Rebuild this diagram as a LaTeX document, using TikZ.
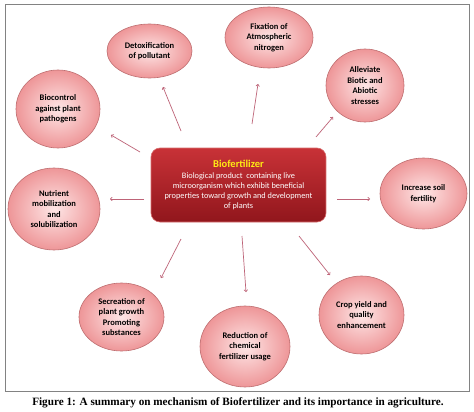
\documentclass[tikz,border=0pt]{standalone}
\usepackage{fontspec}
\setmainfont{Liberation Serif}
\newfontfamily\calfont{Carlito}
\usetikzlibrary{shapes.geometric,arrows.meta,calc}
\definecolor{ellin}{RGB}{254,230,230}
\definecolor{ellout}{RGB}{238,150,152}
\definecolor{elldraw}{RGB}{190,110,112}
\definecolor{arrcol}{RGB}{190,100,120}
\definecolor{boxtop}{RGB}{200,50,55}
\definecolor{boxbot}{RGB}{145,22,28}
\definecolor{boxdraw}{RGB}{215,110,110}
\definecolor{titlecol}{RGB}{255,235,20}
\definecolor{framecol}{RGB}{130,130,130}
\tikzset{
  ell/.style={ellipse, inner sep=0pt, draw=elldraw, line width=0.6pt,
    shading=radial, inner color=ellin, outer color=ellout,
    align=center, font=\calfont\bfseries\fontsize{8.5}{10.5}\selectfont},
  centrebox/.style={rectangle, rounded corners=9pt, draw=boxdraw, line width=0.6pt,
    top color=boxtop, bottom color=boxbot, minimum width=175pt, minimum height=74pt,
    inner sep=0pt, align=center, text=white, font=\calfont\fontsize{8.3}{10}\selectfont},
  arr/.style={draw=arrcol, line width=0.7pt, -{To[length=2.5pt,width=4pt]}},
  frame/.style={draw=framecol, line width=1pt}
}
\begin{document}
\begin{tikzpicture}[x=1pt,y=-1pt]
\useasboundingbox (0,0) rectangle (474,412);
\fill[white] (0,0) rectangle (474,412);
\draw[frame] (5,5) rectangle (469,391);

\node[centrebox] (box) at (238.5,185) {{\bfseries\fontsize{10.5}{12}\selectfont\color{titlecol}Biofertilizer}\\[1pt]
Biological product\ \ containing live\\microorganism which exhibit beneficial\\properties toward growth and development\\of plants};

\node[ell, minimum width=85pt, minimum height=54pt] (detox) at (149.5,51) {Detoxification\\of pollutant};
\node[ell, minimum width=88pt, minimum height=61pt] (fix) at (269,37.5) {Fixation of\\Atmospheric\\nitrogen};
\node[ell, minimum width=78pt, minimum height=73pt] (alle) at (365,85.5) {Alleviate\\Biotic and\\Abiotic\\stresses};
\node[ell, minimum width=84pt, minimum height=78pt] (bio) at (58,109) {Biocontrol\\against plant\\pathogens};
\node[ell, minimum width=92pt, minimum height=82pt] (nut) at (54,209) {Nutrient\\mobilization\\and\\solubilization};
\node[ell, minimum width=87pt, minimum height=71pt] (inc) at (423.5,193.5) {Increase soil\\fertility};
\node[ell, minimum width=85pt, minimum height=68pt] (sec) at (121.5,317) {Secreation of\\plant growth\\Promoting\\substances};
\node[ell, minimum width=90pt, minimum height=81pt] (red) at (245,346.5) {Reduction of\\chemical\\fertilizer usage};
\node[ell, minimum width=85pt, minimum height=78pt] (crop) at (361.5,315) {Crop yield and\\quality\\enhancement};

\draw[arr] ($(box)+(-57.5,-54)$) -- ($(detox)+(13.5,36)$);
\draw[arr] ($(box)+(13.5,-61)$) -- ($(fix)+(-11,46.5)$);
\draw[arr] ($(box)+(77.5,-48)$) -- ($(alle)+(-32,31.5)$);
\draw[arr] ($(box)+(-98.5,-33)$) -- ($(bio)+(53,26)$);
\draw[arr] ($(box)+(-94.5,14)$) -- ($(nut)+(56,-10)$);
\draw[arr] ($(box)+(98.5,14)$) -- ($(inc)+(-53.5,5.5)$);
\draw[arr] ($(box)+(-57.5,54)$) -- ($(sec)+(39.5,-39)$);
\draw[arr] ($(box)+(3.5,51)$) -- ($(red)+(1,-54.5)$);
\draw[arr] ($(box)+(60.5,51)$) -- ($(crop)+(-31.5,-40)$);

\node[font=\bfseries\fontsize{11.2}{12}\selectfont, inner sep=0pt] (cap) at (238,402.5) {Figure 1: A summary on mechanism of Biofertilizer and its importance in agriculture.};
\end{tikzpicture}
\end{document}
